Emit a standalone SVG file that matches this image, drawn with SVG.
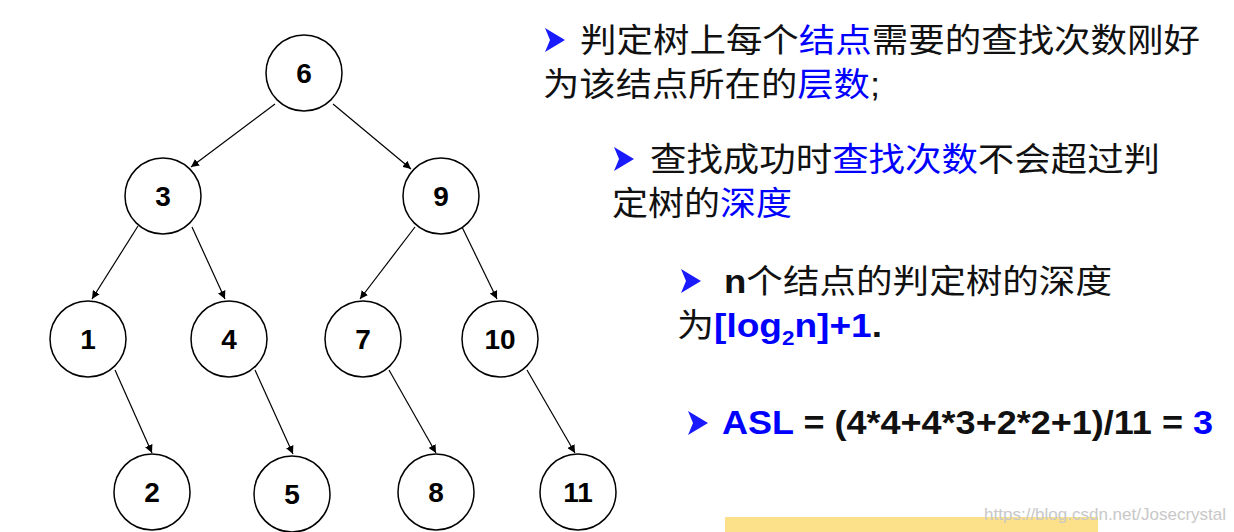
<svg xmlns="http://www.w3.org/2000/svg" width="1234" height="532" viewBox="0 0 1234 532">
<defs>
<style>
.n circle{fill:#fff;stroke:#000;stroke-width:1.5}
.n text{font-family:"Liberation Sans",Arial,sans-serif;font-weight:bold;font-size:28px;text-anchor:middle}
.e line{stroke:#000;stroke-width:1.2;marker-end:url(#ah)}
.t{font-family:"Liberation Sans","Noto Sans CJK SC",sans-serif;font-size:33px;fill:#111}
.b{fill:#0000ff}
.bul{fill:#1a1aff}
</style>
<marker id="ah" viewBox="0 0 10 10" refX="10" refY="5" markerWidth="8" markerHeight="8" orient="auto" markerUnits="userSpaceOnUse"><path d="M0,0L10,5L0,10z" fill="#000"/></marker>
<polygon id="bu" points="0,-12 20,0 0,12 5,0"/>
</defs>
<rect width="1234" height="532" fill="#fff"/>
<g class="e">
<line x1="275" y1="104" x2="191" y2="167"/>
<line x1="333" y1="104" x2="411" y2="169"/>
<line x1="138" y1="226" x2="92" y2="299"/>
<line x1="192" y1="227" x2="225" y2="299"/>
<line x1="415" y1="227" x2="360" y2="299"/>
<line x1="462" y1="227" x2="497" y2="299"/>
<line x1="115" y1="370" x2="152" y2="453"/>
<line x1="255" y1="370" x2="293" y2="454"/>
<line x1="389" y1="370" x2="436" y2="453"/>
<line x1="527" y1="370" x2="575" y2="453"/>
</g>
<g id="n6" class="n"><circle cx="304" cy="73" r="38"/><text x="304" y="83">6</text></g>
<g id="n3" class="n"><circle cx="163" cy="196" r="38"/><text x="163" y="206">3</text></g>
<g id="n9" class="n"><circle cx="441" cy="196" r="38"/><text x="441" y="206">9</text></g>
<g id="n1" class="n"><circle cx="88" cy="339" r="38"/><text x="88" y="349">1</text></g>
<g id="n4" class="n"><circle cx="229" cy="339" r="38"/><text x="229" y="349">4</text></g>
<g id="n7" class="n"><circle cx="363" cy="339" r="38"/><text x="363" y="349">7</text></g>
<g id="n10" class="n"><circle cx="500" cy="339" r="38"/><text x="500" y="349">10</text></g>
<g id="n2" class="n"><circle cx="152" cy="492" r="38"/><text x="152" y="502">2</text></g>
<g id="n5" class="n"><circle cx="292" cy="494" r="38"/><text x="292" y="504">5</text></g>
<g id="n8" class="n"><circle cx="436" cy="492" r="38"/><text x="436" y="502">8</text></g>
<g id="n11" class="n"><circle cx="578" cy="492" r="38"/><text x="578" y="502">11</text></g>
<g class="bul">
<use href="#bu" x="545" y="40"/>
<use href="#bu" x="614" y="159"/>
<use href="#bu" x="681" y="281"/>
<use href="#bu" x="688" y="423"/>
</g>
<text class="t" x="580" y="52" textLength="620" lengthAdjust="spacingAndGlyphs">判定树上每个<tspan class="b">结点</tspan>需要的查找次数刚好</text>
<text class="t" x="543" y="96" textLength="337" lengthAdjust="spacingAndGlyphs">为该结点所在的<tspan class="b">层数</tspan>;</text>
<text class="t" x="650" y="171" textLength="510" lengthAdjust="spacingAndGlyphs">查找成功时<tspan class="b">查找次数</tspan>不会超过判</text>
<text class="t" x="612" y="215" textLength="180" lengthAdjust="spacingAndGlyphs">定树的<tspan class="b">深度</tspan></text>
<text class="t" x="724" y="293" textLength="388" lengthAdjust="spacingAndGlyphs"><tspan font-weight="bold">n</tspan>个结点的判定树的深度</text>
<text class="t" x="677" y="337" textLength="205" lengthAdjust="spacingAndGlyphs">为<tspan class="b" font-weight="bold">[log<tspan font-size="20" dy="8">2</tspan><tspan dy="-8">n]+1</tspan></tspan><tspan font-weight="bold">.</tspan></text>
<text class="t" x="722" y="434" font-weight="bold" textLength="491" lengthAdjust="spacingAndGlyphs"><tspan class="b">ASL</tspan> = (4*4+4*3+2*2+1)/11 = <tspan class="b">3</tspan></text>
<rect x="725" y="517" width="373" height="15" fill="#fde08a"/>
<text x="1226" y="520" text-anchor="end" font-family="Liberation Sans,sans-serif" font-size="17" fill="#c8c8c8">https://blog.csdn.net/Josecrystal</text>
</svg>
